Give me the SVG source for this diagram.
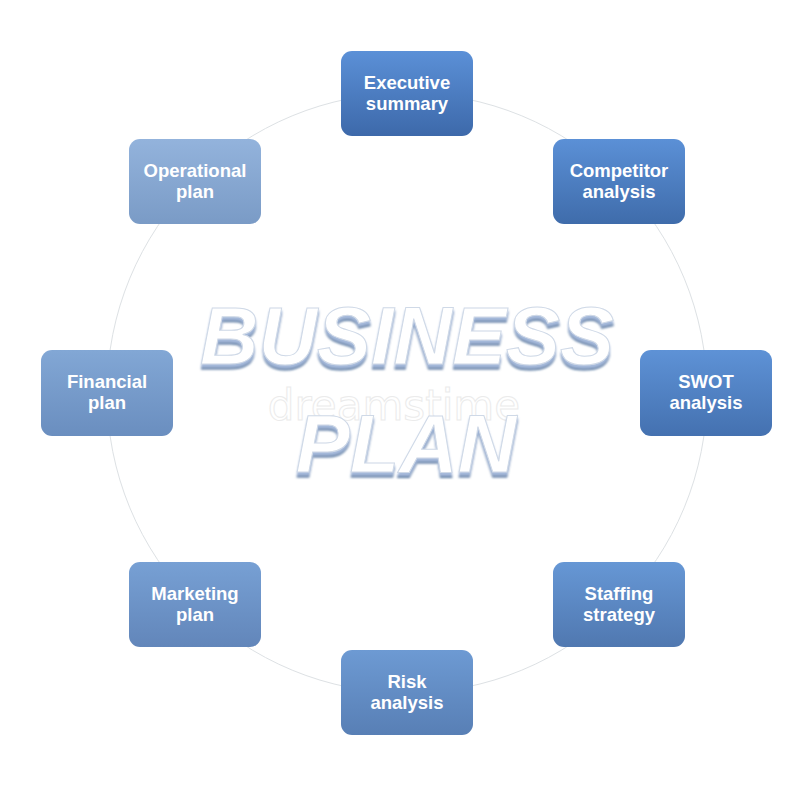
<svg xmlns="http://www.w3.org/2000/svg" width="800" height="800" viewBox="0 0 800 800">
<defs>
<linearGradient id="g1" x1="0" y1="0" x2="0" y2="1"><stop offset="0" stop-color="#5b90d7"/><stop offset="1" stop-color="#3d69aa"/></linearGradient>
<linearGradient id="g2" x1="0" y1="0" x2="0" y2="1"><stop offset="0" stop-color="#5b90d6"/><stop offset="1" stop-color="#3f6cab"/></linearGradient>
<linearGradient id="g3" x1="0" y1="0" x2="0" y2="1"><stop offset="0" stop-color="#5e92d6"/><stop offset="1" stop-color="#4471b0"/></linearGradient>
<linearGradient id="g4" x1="0" y1="0" x2="0" y2="1"><stop offset="0" stop-color="#6697d5"/><stop offset="1" stop-color="#5078b0"/></linearGradient>
<linearGradient id="g5" x1="0" y1="0" x2="0" y2="1"><stop offset="0" stop-color="#6d9ad3"/><stop offset="1" stop-color="#587fb5"/></linearGradient>
<linearGradient id="g6" x1="0" y1="0" x2="0" y2="1"><stop offset="0" stop-color="#77a0d4"/><stop offset="1" stop-color="#6286ba"/></linearGradient>
<linearGradient id="g7" x1="0" y1="0" x2="0" y2="1"><stop offset="0" stop-color="#82a7d5"/><stop offset="1" stop-color="#6a8ebf"/></linearGradient>
<linearGradient id="g8" x1="0" y1="0" x2="0" y2="1"><stop offset="0" stop-color="#93b3dc"/><stop offset="1" stop-color="#7a9bc6"/></linearGradient>
<filter id="emboss" x="-5%" y="-10%" width="110%" height="130%">
<feOffset in="SourceAlpha" dy="5" result="off"/>
<feFlood flood-color="#56779f"/>
<feComposite in2="off" operator="in" result="dark"/>
<feOffset in="SourceAlpha" dy="2.5" result="off2"/>
<feFlood flood-color="#a6badb"/>
<feComposite in2="off2" operator="in" result="mid"/>
<feMerge><feMergeNode in="dark"/><feMergeNode in="mid"/></feMerge>
<feGaussianBlur stdDeviation="0.8" result="sh"/>
<feMerge><feMergeNode in="sh"/><feMergeNode in="SourceGraphic"/></feMerge>
</filter>
</defs>
<style>
.box{stroke:none}
.lbl{font-family:"Liberation Sans",Arial,sans-serif;font-weight:bold;font-size:18.5px;fill:#ffffff;text-anchor:middle}
.big{font-family:"Liberation Sans",Arial,sans-serif;font-weight:bold;font-style:italic;font-size:81px;text-anchor:middle;fill:#ffffff;stroke:#cfd9e7;stroke-width:1}
.wm{font-family:"DejaVu Sans",sans-serif;font-size:42px;fill:none;stroke:#ebebeb;stroke-width:1;text-anchor:middle}
</style>
<rect width="800" height="800" fill="#ffffff"/>
<g id="connectors">
<circle cx="407" cy="393" r="300" fill="none" stroke="#dde1e4" stroke-width="1"/>
</g>
<g id="title">
<text class="wm" x="394" y="420">dreamstime</text>
<g filter="url(#emboss)">
<text class="big" x="407" y="364">BUSINESS</text>
<text class="big" x="406" y="472">PLAN</text>
</g>
</g>
<g id="executive-summary">
<rect class="box" x="341" y="51" width="132" height="85" rx="11" fill="url(#g1)"/>
<text class="lbl" x="407" y="89">Executive</text><text class="lbl" x="407" y="110">summary</text>
</g>
<g id="competitor-analysis">
<rect class="box" x="553" y="139" width="132" height="85" rx="11" fill="url(#g2)"/>
<text class="lbl" x="619" y="177">Competitor</text><text class="lbl" x="619" y="198">analysis</text>
</g>
<g id="swot-analysis">
<rect class="box" x="640" y="350" width="132" height="86" rx="11" fill="url(#g3)"/>
<text class="lbl" x="706" y="388">SWOT</text><text class="lbl" x="706" y="409">analysis</text>
</g>
<g id="staffing-strategy">
<rect class="box" x="553" y="562" width="132" height="85" rx="11" fill="url(#g4)"/>
<text class="lbl" x="619" y="600">Staffing</text><text class="lbl" x="619" y="621">strategy</text>
</g>
<g id="risk-analysis">
<rect class="box" x="341" y="650" width="132" height="85" rx="11" fill="url(#g5)"/>
<text class="lbl" x="407" y="688">Risk</text><text class="lbl" x="407" y="709">analysis</text>
</g>
<g id="marketing-plan">
<rect class="box" x="129" y="562" width="132" height="85" rx="11" fill="url(#g6)"/>
<text class="lbl" x="195" y="600">Marketing</text><text class="lbl" x="195" y="621">plan</text>
</g>
<g id="financial-plan">
<rect class="box" x="41" y="350" width="132" height="86" rx="11" fill="url(#g7)"/>
<text class="lbl" x="107" y="388">Financial</text><text class="lbl" x="107" y="409">plan</text>
</g>
<g id="operational-plan">
<rect class="box" x="129" y="139" width="132" height="85" rx="11" fill="url(#g8)"/>
<text class="lbl" x="195" y="177">Operational</text><text class="lbl" x="195" y="198">plan</text>
</g>
</svg>
